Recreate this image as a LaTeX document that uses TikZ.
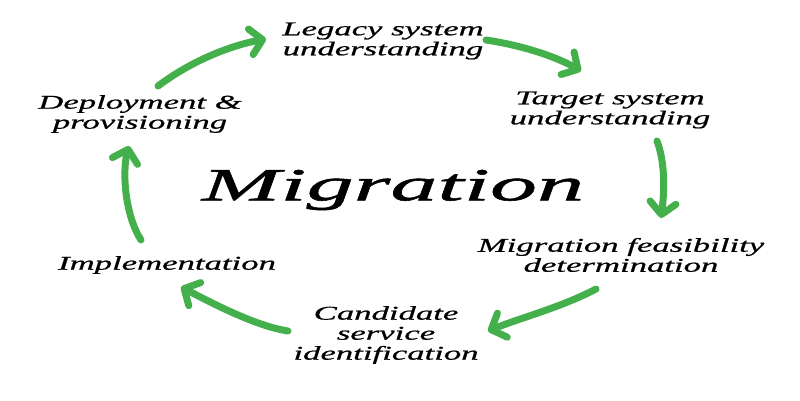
\documentclass[tikz,border=0pt]{standalone}
\usepackage{fontspec}
\usetikzlibrary{arrows.meta}
\newfontfamily\handfont[FakeStretch=1.78, FakeBold=0.8]{Liberation Serif}
\newfontfamily\titlefont[FakeStretch=2.05, FakeBold=1.2]{Liberation Serif}
\definecolor{arrowgreen}{RGB}{68,176,76}
\tikzset{
  lbl/.style={align=center, inner sep=0pt, font=\handfont\itshape\fontsize{19.5}{20}\selectfont},
  cyc/.style={draw=arrowgreen, line width=7pt, line cap=round,
    -{Straight Barb[length=12pt, width=26pt, line width=7pt, line cap=round, round]}}
}
\begin{document}
\begin{tikzpicture}[x=1pt,y=-1pt]
\useasboundingbox[fill=white] (0,0) rectangle (800,400);
\node[lbl] (legacy) at (383,41) {Legacy system\\understanding};
\node[lbl] (target) at (610,110) {Target system\\understanding};
\node[lbl] (deploy) at (140,114) {Deployment \&\\provisioning};
\node[lbl] (feas) at (621,255) {Migration feasibility\\determination};
\node[lbl] (impl) at (167,265) {Implementation};
\node[lbl] (cand) at (386,335) {Candidate\\service\\identification};
\node[inner sep=0pt, font=\titlefont\itshape\fontsize{46}{50}\selectfont] (mig) at (393,190) {Migration};
\coordinate (a1s) at (158,86); \coordinate (a1e) at (266,39);
\coordinate (a2s) at (486,40); \coordinate (a2e) at (581,71);
\coordinate (a3s) at (657,141); \coordinate (a3e) at (661,218);
\coordinate (a4s) at (596,289); \coordinate (a4e) at (488,331);
\coordinate (a5s) at (288,331); \coordinate (a5e) at (181,287);
\coordinate (a6s) at (141,240); \coordinate (a6e) at (129,146);
\draw[cyc] (a1s) .. controls (190,62) and (228,46) .. (a1e);
\draw[cyc] (a2s) .. controls (520,45) and (555,56) .. (a2e);
\draw[cyc] (a3s) .. controls (666,165) and (664,195) .. (a3e);
\draw[cyc] (a4s) .. controls (562,307) and (520,318) .. (a4e);
\draw[cyc] (a5s) .. controls (255,326) and (210,302) .. (a5e);
\draw[cyc] (a6s) .. controls (125,215) and (122,172) .. (a6e);
\end{tikzpicture}
\end{document}
